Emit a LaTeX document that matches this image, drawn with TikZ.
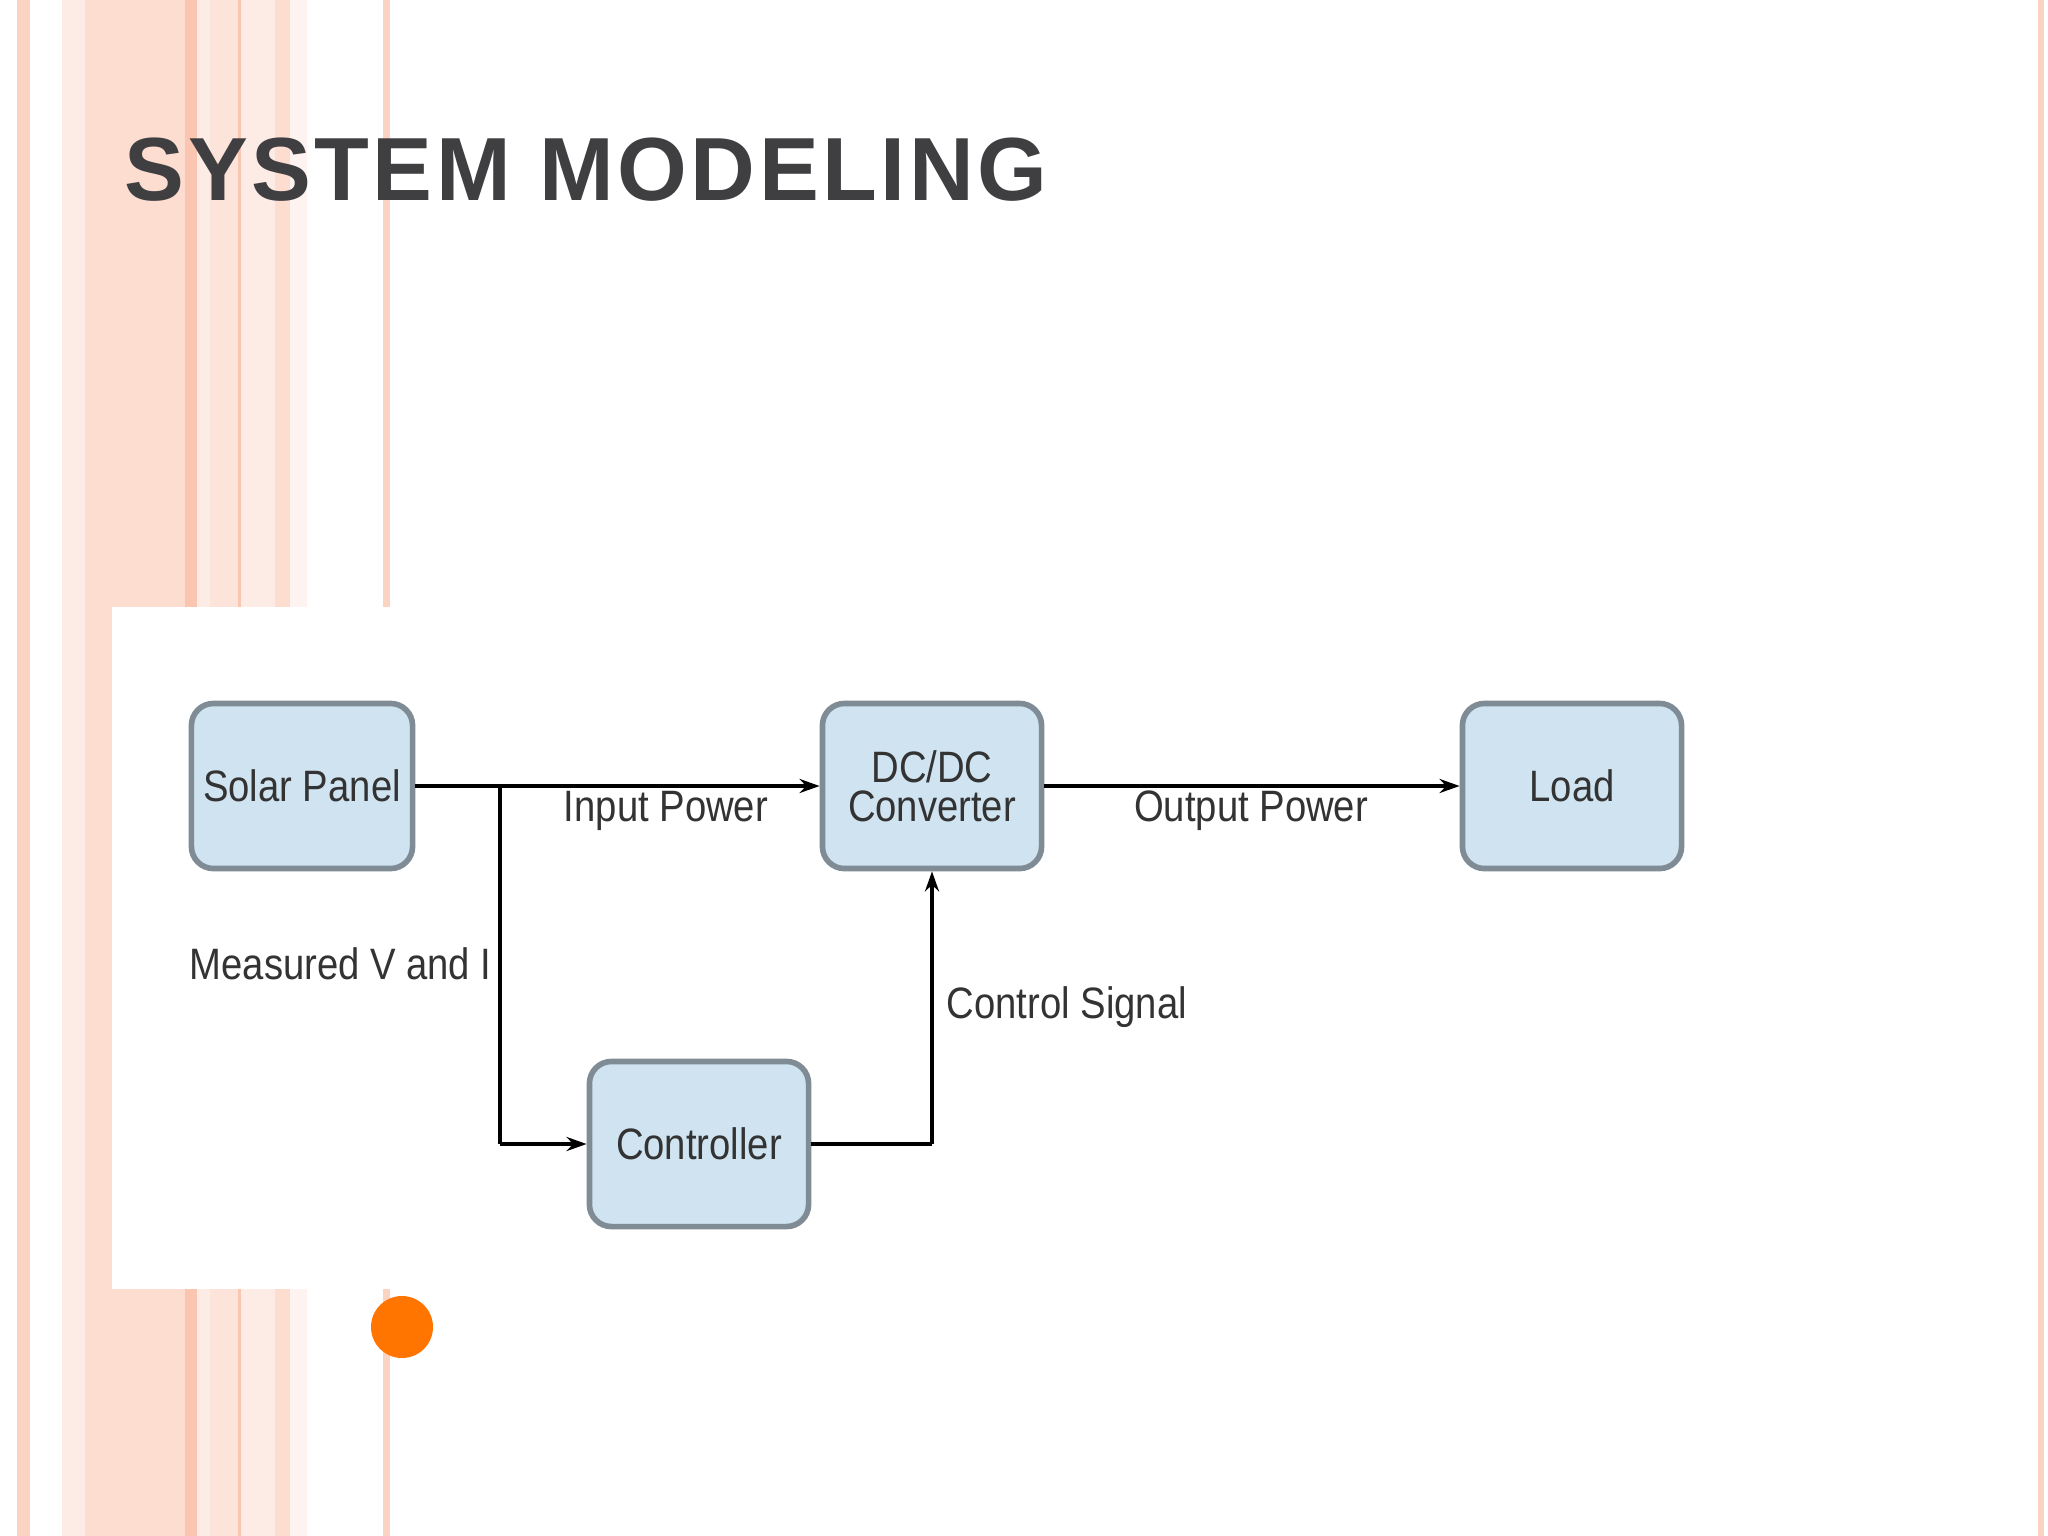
\documentclass[tikz,border=0pt]{standalone}
\usepackage{fontspec}
\setmainfont{Liberation Sans}
\newfontfamily\diagf{Liberation Sans}[FakeStretch=0.87]
\usetikzlibrary{arrows.meta}
\definecolor{pk1}{HTML}{FBD3C3}
\definecolor{pk2}{HTML}{FCDDD0}
\definecolor{pk3}{HTML}{FDEBE6}
\definecolor{pk4}{HTML}{FAC6B2}
\definecolor{bx}{HTML}{CFE3F0}
\definecolor{bd}{HTML}{7F8C96}
\definecolor{tt}{HTML}{3F3F42}
\tikzset{
  blk/.style={draw=bd,line width=1.6pt,fill=bx,rounded corners=0.22cm,minimum width=2.19cm,minimum height=1.65cm,font=\diagf\fontsize{12.5pt}{13pt}\selectfont,text=black!80,align=center},
  lbl/.style={font=\diagf\fontsize{12.5pt}{13pt}\selectfont,text=black!80,inner sep=0},
  con/.style={line width=1.3pt,-{Stealth[length=0.2cm,width=0.14cm]}},
  ln/.style={line width=1.3pt}
}
\begin{document}
\begin{tikzpicture}[x=0.01cm,y=-0.01cm]
\useasboundingbox (0,0) rectangle (2048,1536);
\fill[white] (0,0) rectangle (2048,1536);
% stripes
\fill[pk1] (17,0) rectangle (30,1536);
\fill[pk3] (62,0) rectangle (85,1536);
\fill[pk2] (85,0) rectangle (185,1536);
\fill[pk4] (185,0) rectangle (197,1536);
\fill[pk3] (197,0) rectangle (210,1536);
\fill[pk2!80!white] (210,0) rectangle (240,1536);
\fill[pk4] (238,0) rectangle (241,1536);
\fill[pk3] (241,0) rectangle (275,1536);
\fill[pk2] (275,0) rectangle (290,1536);
\fill[pk3!60!white] (290,0) rectangle (307,1536);
\fill[pk1] (383,0) rectangle (390,1536);
\fill[pk1] (2038,0) rectangle (2044,1536);
% white diagram panel
\fill[white] (112,607) rectangle (2030,1289);
\node[anchor=base west,inner sep=0,text=tt,font=\bfseries\fontsize{25.5pt}{26pt}\selectfont] (title) at (124,200) {S\kern1ptY\kern1ptS\kern1ptT\kern1ptE\kern1ptM\kern1pt\ M\kern1ptO\kern1ptD\kern1ptE\kern1ptL\kern1ptI\kern1ptN\kern1ptG};
\fill[orange!80!red!90!yellow] (402,1327) circle (31);
\fill[white] (402,1327) circle (0) ;
% boxes
\node[blk] (sp) at (302,786) {Solar Panel};
\node[blk] (dc) at (932,786) {DC/DC\\[-2pt]Converter};
\node[blk] (ld) at (1572,786) {Load};
\node[blk] (ct) at (699,1144) {Controller};
\coordinate (j) at (500,786);
\coordinate (jd) at (500,1144);
\coordinate (cc) at (932,1144);
\draw[con] (sp.east) -- (dc.west);
\draw[con] (dc.east) -- (ld.west);
\draw[ln] (j) -- (jd);
\draw[con] (jd) -- (ct.west);
\draw[ln] (ct.east) -- (cc);
\draw[con] (cc) -- (dc.south);
\node[lbl] (l1) at (666,811) {Input Power};
\node[lbl] (l2) at (1251,811) {Output Power};
\node[lbl,anchor=west] (l3) at (189,964) {Measured V and I};
\node[lbl,anchor=west] (l4) at (946,1007) {Control Signal};
\end{tikzpicture}
\end{document}
